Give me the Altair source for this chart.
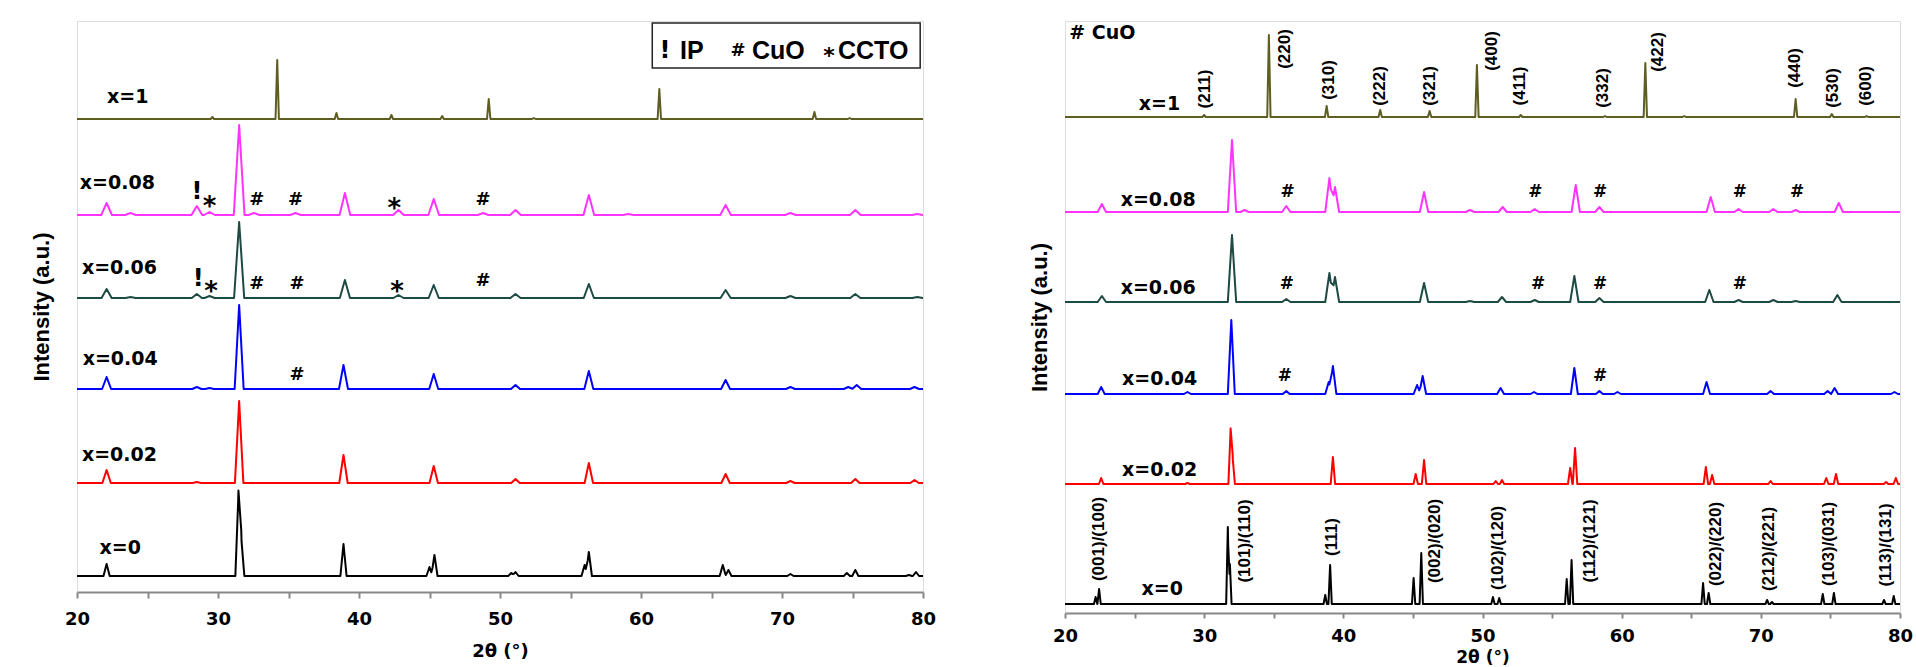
import altair as alt
import pandas as pd

# ---------------- data ----------------
series = ["x=0", "x=0.02", "x=0.04", "x=0.06", "x=0.08", "x=1"]
colors = ["#000000", "#ff0000", "#0000ff", "#1d4a42", "#ff33ff", "#5e5e22"]
stroke_w = [2, 2, 2.2, 2, 2.2, 1.6]

# ---- left panel (IP / CuO / CCTO phases) ----
L_offsets = [16, 109, 203, 294, 377, 473]
L_widths = [0.22, 0.3, 0.32, 0.36, 0.38, 0.12]
L_pos = {
    "x=0": [22.1, 31.45, 31.65, 38.9, 45.0, 45.35, 50.8, 51.1, 56.0, 56.3, 65.8, 66.2, 70.6, 74.6, 75.2, 79.0, 79.5],
    "x=0.02": [22.1, 28.5, 31.5, 38.9, 45.3, 51.1, 56.3, 66.0, 70.6, 75.2, 79.4],
    "x=0.04": [22.1, 28.5, 29.4, 31.5, 38.9, 45.3, 51.1, 56.3, 66.0, 70.6, 74.7, 75.3, 79.4],
    "x=0.06": [22.1, 23.8, 28.5, 29.4, 31.5, 39.0, 42.8, 45.3, 51.1, 56.3, 66.0, 70.6, 75.2, 79.6],
    "x=0.08": [22.1, 23.8, 28.5, 29.4, 31.5, 32.55, 35.5, 39.0, 42.8, 45.3, 48.8, 51.1, 56.3, 59.1, 66.0, 70.6, 75.2, 79.6],
    "x=1": [29.6, 34.2, 38.4, 42.3, 45.9, 49.2, 52.4, 61.3, 72.3, 74.8],
}
L_int = {
    "x=0": [12, 82, 38, 32, 9, 21, 3, 4, 11, 24, 11, 6, 2, 3, 6, 1, 4],
    "x=0.02": [13, 1, 82, 28, 17, 4, 20, 9, 2, 4, 3],
    "x=0.04": [12, 2, 1, 84, 24, 15, 4, 18, 9, 2, 2, 4, 2],
    "x=0.06": [9, 1, 4, 2, 76, 18, 3, 13, 4, 14, 8, 2, 4, 1],
    "x=0.08": [12, 2, 9, 3, 90, 2, 2, 22, 5, 16, 2, 5, 20, 1, 10, 2, 5, 1],
    "x=1": [2, 59, 6, 4, 3, 20, 1, 30, 7, 1],
}
L_lab_x = [21.6, 20.35, 20.4, 20.35, 20.2, 22.13]
L_lab_y = [44, 137, 233, 324, 409, 495]
L_mark_txt = ["!", "#", "#", "#", "!", "#", "#", "#", "#"]
L_mark_x = [28.5, 32.75, 35.5, 48.8, 28.6, 32.75, 35.6, 48.8, 35.6]
L_mark_y = [400, 392, 392, 392, 313, 308, 308, 311, 217]
L_star_x = [29.4, 42.5, 29.5, 42.7]
L_star_y = [392, 390, 307, 307]
L_box = [60.8, 79.8, 524, 569]
L_leg_sym = ["!", "#"]
L_leg_sym_x = [61.7, 66.88]
L_leg_star_x = 73.33
L_leg_name = ["IP", "CuO", "CCTO"]
L_leg_name_x = [62.77, 67.87, 73.97]
L_leg_y = 541

# ---- right panel (CuO hkl) ----
R_offsets = [9, 129, 219, 311, 401, 496]
R_widths = [0.12, 0.16, 0.25, 0.3, 0.3, 0.12]
R_pos = {
    "x=0": [22.2, 22.45, 31.7, 31.85, 38.7, 39.05, 45.05, 45.6, 50.75, 51.2, 56.05, 56.4, 65.85, 66.25, 70.45, 70.8, 74.45, 75.25, 78.85, 79.55],
    "x=0.02": [22.6, 28.8, 31.9, 32.05, 39.25, 45.2, 45.8, 50.95, 51.4, 56.3, 56.65, 66.05, 66.5, 70.7, 74.7, 75.4, 79.0, 79.7],
    "x=0.04": [22.6, 28.8, 31.95, 35.9, 38.95, 39.25, 45.3, 45.7, 51.3, 53.7, 56.6, 58.4, 59.7, 66.1, 70.7, 74.8, 75.3, 79.6],
    "x=0.06": [22.65, 32.0, 35.9, 39.0, 39.4, 45.8, 49.1, 51.4, 53.75, 56.6, 58.4, 66.3, 68.4, 70.9, 72.5, 75.5],
    "x=0.08": [22.65, 32.0, 32.9, 35.9, 39.0, 39.4, 45.8, 49.1, 51.45, 53.75, 56.7, 58.4, 66.4, 68.4, 70.9, 72.5, 75.6],
    "x=1": [30.0, 34.65, 38.8, 42.65, 46.2, 49.6, 52.75, 58.8, 61.7, 64.5, 72.5, 75.1, 77.6],
}
R_int = {
    "x=0": [7, 15, 77, 40, 9, 39, 26, 51, 7, 6, 25, 44, 21, 11, 4, 2, 10, 11, 4, 8],
    "x=0.02": [6, 1, 54, 26, 27, 10, 24, 3, 4, 16, 36, 17, 9, 3, 6, 10, 2, 6],
    "x=0.04": [7, 2, 74, 3, 12, 28, 9, 18, 6, 2, 26, 3, 2, 12, 3, 3, 6, 2],
    "x=0.06": [6, 67, 3, 29, 25, 19, 1, 5, 2, 26, 4, 12, 2, 2, 1, 7],
    "x=0.08": [8, 72, 2, 6, 34, 25, 20, 2, 5, 3, 27, 5, 15, 3, 3, 2, 9],
    "x=1": [2, 82, 11, 7, 6, 52, 2, 1, 54, 1, 18, 3, 1],
}
R_lab_x = [25.5, 24.1, 24.1, 24.0, 24.0, 25.3]
R_lab_y = [24, 143, 234, 325, 413, 509]
R_hash_x = [36.0, 53.8, 58.45, 68.5, 72.6, 35.95, 54.0, 58.45, 68.5, 35.8, 58.45]
R_hash_y = [421, 421, 421, 421, 421, 329, 329, 329, 329, 237, 237]
R_hkl_top = ["(211)", "(220)", "(310)", "(222)", "(321)", "(400)", "(411)", "(332)", "(422)", "(440)", "(530)", "(600)"]
R_hkl_top_x = [30.05, 35.8, 38.95, 42.65, 46.2, 50.7, 52.7, 58.65, 62.6, 72.45, 75.15, 77.55]
R_hkl_top_y = [524, 564, 533, 527, 527, 562, 527, 525, 561, 545, 525, 527]
R_hkl_bot = ["(001)/(100)", "(101)/(110)", "(111)", "(002)/(020)", "(102)/(120)", "(112)/(121)", "(022)/(220)", "(212)/(221)", "(103)/(031)", "(113)/(131)"]
R_hkl_bot_x = [22.45, 32.95, 39.2, 46.6, 51.1, 57.7, 66.75, 70.6, 74.9, 79.0]
R_hkl_bot_y = [74, 72, 76, 72, 65, 72, 69, 64, 69, 68]
R_title = "# CuO"
R_title_x = 20.3
R_title_y = 580

x_ticks = list(range(20, 81, 5))


def curves(pos_d, int_d, offsets, widths):
    rows = []
    for s, base, w in zip(series, offsets, widths):
        pos, hts = pos_d[s], int_d[s]
        verts = {20.0, 80.0}
        for p in pos:
            for d in (-w, 0.0, w):
                v = round(p + d, 4)
                if 20 <= v <= 80:
                    verts.add(v)
        for v in sorted(verts):
            y = base + sum(max(0.0, h * (1 - abs(v - p) / w)) for p, h in zip(pos, hts))
            rows.append({"series": s, "x": v, "y": y})
    return pd.DataFrame(rows)


def base_layers(df, ymax, tick_size, lab_pad, title_pad, ytitle_pad, title_size):
    X = alt.X("x:Q", scale=alt.Scale(domain=[20, 80], nice=False, zero=False),
              axis=alt.Axis(values=x_ticks, labelExpr="datum.value % 10 === 0 ? datum.label : ''",
                            grid=False, tickSize=tick_size, tickWidth=2, domainWidth=2,
                            labelFont="DejaVu Sans", labelFontWeight="bold", labelFontSize=18,
                            labelPadding=lab_pad, labelFlush=False, labelOverlap=False,
                            titleFont="DejaVu Sans", titleFontWeight="bold", titleFontSize=title_size,
                            titlePadding=title_pad),
              title="2θ (°)")
    Y = alt.Y("y:Q", scale=alt.Scale(domain=[0, ymax], nice=False, zero=False),
              axis=alt.Axis(labels=False, ticks=False, domain=False, grid=False,
                            titleFont="Liberation Sans", titleFontWeight="bold", titleFontSize=22,
                            titlePadding=ytitle_pad),
              title="Intensity (a.u.)")
    lines = alt.Chart(df).mark_line(strokeJoin="round").encode(
        x=X, y=Y,
        color=alt.Color("series:N", scale=alt.Scale(domain=series, range=colors), legend=None),
        strokeWidth=alt.StrokeWidth("series:N", scale=alt.Scale(domain=series, range=stroke_w), legend=None),
        detail="series:N",
    )
    return X, Y, lines


def text_layer(df, X, Y, **kw):
    base = dict(baseline="middle", color="black")
    base.update(kw)
    return alt.Chart(df).mark_text(**base).encode(x=X, y=Y, text="t:N")


# ---------------- left chart ----------------
dfL = curves(L_pos, L_int, L_offsets, L_widths)
XL, YL, linesL = base_layers(dfL, 571, 6, 12, 14, 24, 18)

labL = text_layer(pd.DataFrame({"x": L_lab_x, "y": L_lab_y, "t": series}), XL, YL,
                  font="DejaVu Sans", fontWeight="bold", fontSize=19, align="left")

markL = alt.Chart(pd.DataFrame({"x": L_mark_x, "y": L_mark_y, "t": L_mark_txt})).mark_text(
    font="DejaVu Sans", fontWeight="bold", baseline="middle", align="center", color="black"
).encode(x=XL, y=YL, text="t:N",
         size=alt.Size("t:N", scale=alt.Scale(domain=["!", "#"], range=[24, 18]), legend=None))

starL = text_layer(pd.DataFrame({"x": L_star_x, "y": L_star_y, "t": ["*"] * len(L_star_x)}), XL, YL,
                   font="DejaVu Sans", fontWeight="bold", fontSize=26, align="center", dy=7)

boxL = alt.Chart(pd.DataFrame({"x": [L_box[0]], "x2": [L_box[1]], "y": [L_box[2]], "y2": [L_box[3]]})).mark_rect(
    fill="white", stroke="#222222", strokeWidth=1.5
).encode(x=XL, x2="x2:Q", y=YL, y2="y2:Q")

legSym = alt.Chart(pd.DataFrame({"x": L_leg_sym_x, "y": [L_leg_y] * 2, "t": L_leg_sym})).mark_text(
    font="DejaVu Sans", fontWeight="bold", baseline="middle", align="center", color="black"
).encode(x=XL, y=YL, text="t:N",
         size=alt.Size("t:N", scale=alt.Scale(domain=["!", "#"], range=[24, 15]), legend=None))

legStar = text_layer(pd.DataFrame({"x": [L_leg_star_x], "y": [L_leg_y], "t": ["*"]}), XL, YL,
                     font="DejaVu Sans", fontWeight="bold", fontSize=22, align="center", dy=5)

legName = text_layer(pd.DataFrame({"x": L_leg_name_x, "y": [L_leg_y] * 3, "t": L_leg_name}), XL, YL,
                     font="Liberation Sans", fontWeight="bold", fontSize=25, align="left")

left = alt.layer(linesL, boxL, labL, markL, starL, legSym, legStar, legName).properties(width=846, height=571)

# ---------------- right chart ----------------
dfR = curves(R_pos, R_int, R_offsets, R_widths)
XR, YR, linesR = base_layers(dfR, 592, 5, 9, 4, 14, 17)

labR = text_layer(pd.DataFrame({"x": R_lab_x, "y": R_lab_y, "t": series}), XR, YR,
                  font="DejaVu Sans", fontWeight="bold", fontSize=19, align="left")

hashR = text_layer(pd.DataFrame({"x": R_hash_x, "y": R_hash_y, "t": ["#"] * len(R_hash_x)}), XR, YR,
                   font="DejaVu Sans", fontWeight="bold", fontSize=17, align="center")

hklTop = text_layer(pd.DataFrame({"x": R_hkl_top_x, "y": R_hkl_top_y, "t": R_hkl_top}), XR, YR,
                    font="Liberation Sans", fontWeight="bold", fontSize=17, angle=270, align="center")

hklBot = text_layer(pd.DataFrame({"x": R_hkl_bot_x, "y": R_hkl_bot_y, "t": R_hkl_bot}), XR, YR,
                    font="Liberation Sans", fontWeight="bold", fontSize=17, angle=270, align="center")

titleR = text_layer(pd.DataFrame({"x": [R_title_x], "y": [R_title_y], "t": [R_title]}), XR, YR,
                    font="DejaVu Sans", fontWeight="bold", fontSize=19, align="left")

right = alt.layer(linesR, labR, hashR, hklTop, hklBot, titleR).properties(width=835, height=592)

chart = alt.hconcat(left, right, spacing=90).properties(
    padding={"left": 29, "top": 20, "right": 0, "bottom": 0}
).configure_view(stroke="black", strokeWidth=2).configure_axis(
    domainColor="black", tickColor="black", labelColor="black", titleColor="black"
).configure(background="white")

chart.save("out.html", embed_options={"renderer": "svg", "actions": False})
